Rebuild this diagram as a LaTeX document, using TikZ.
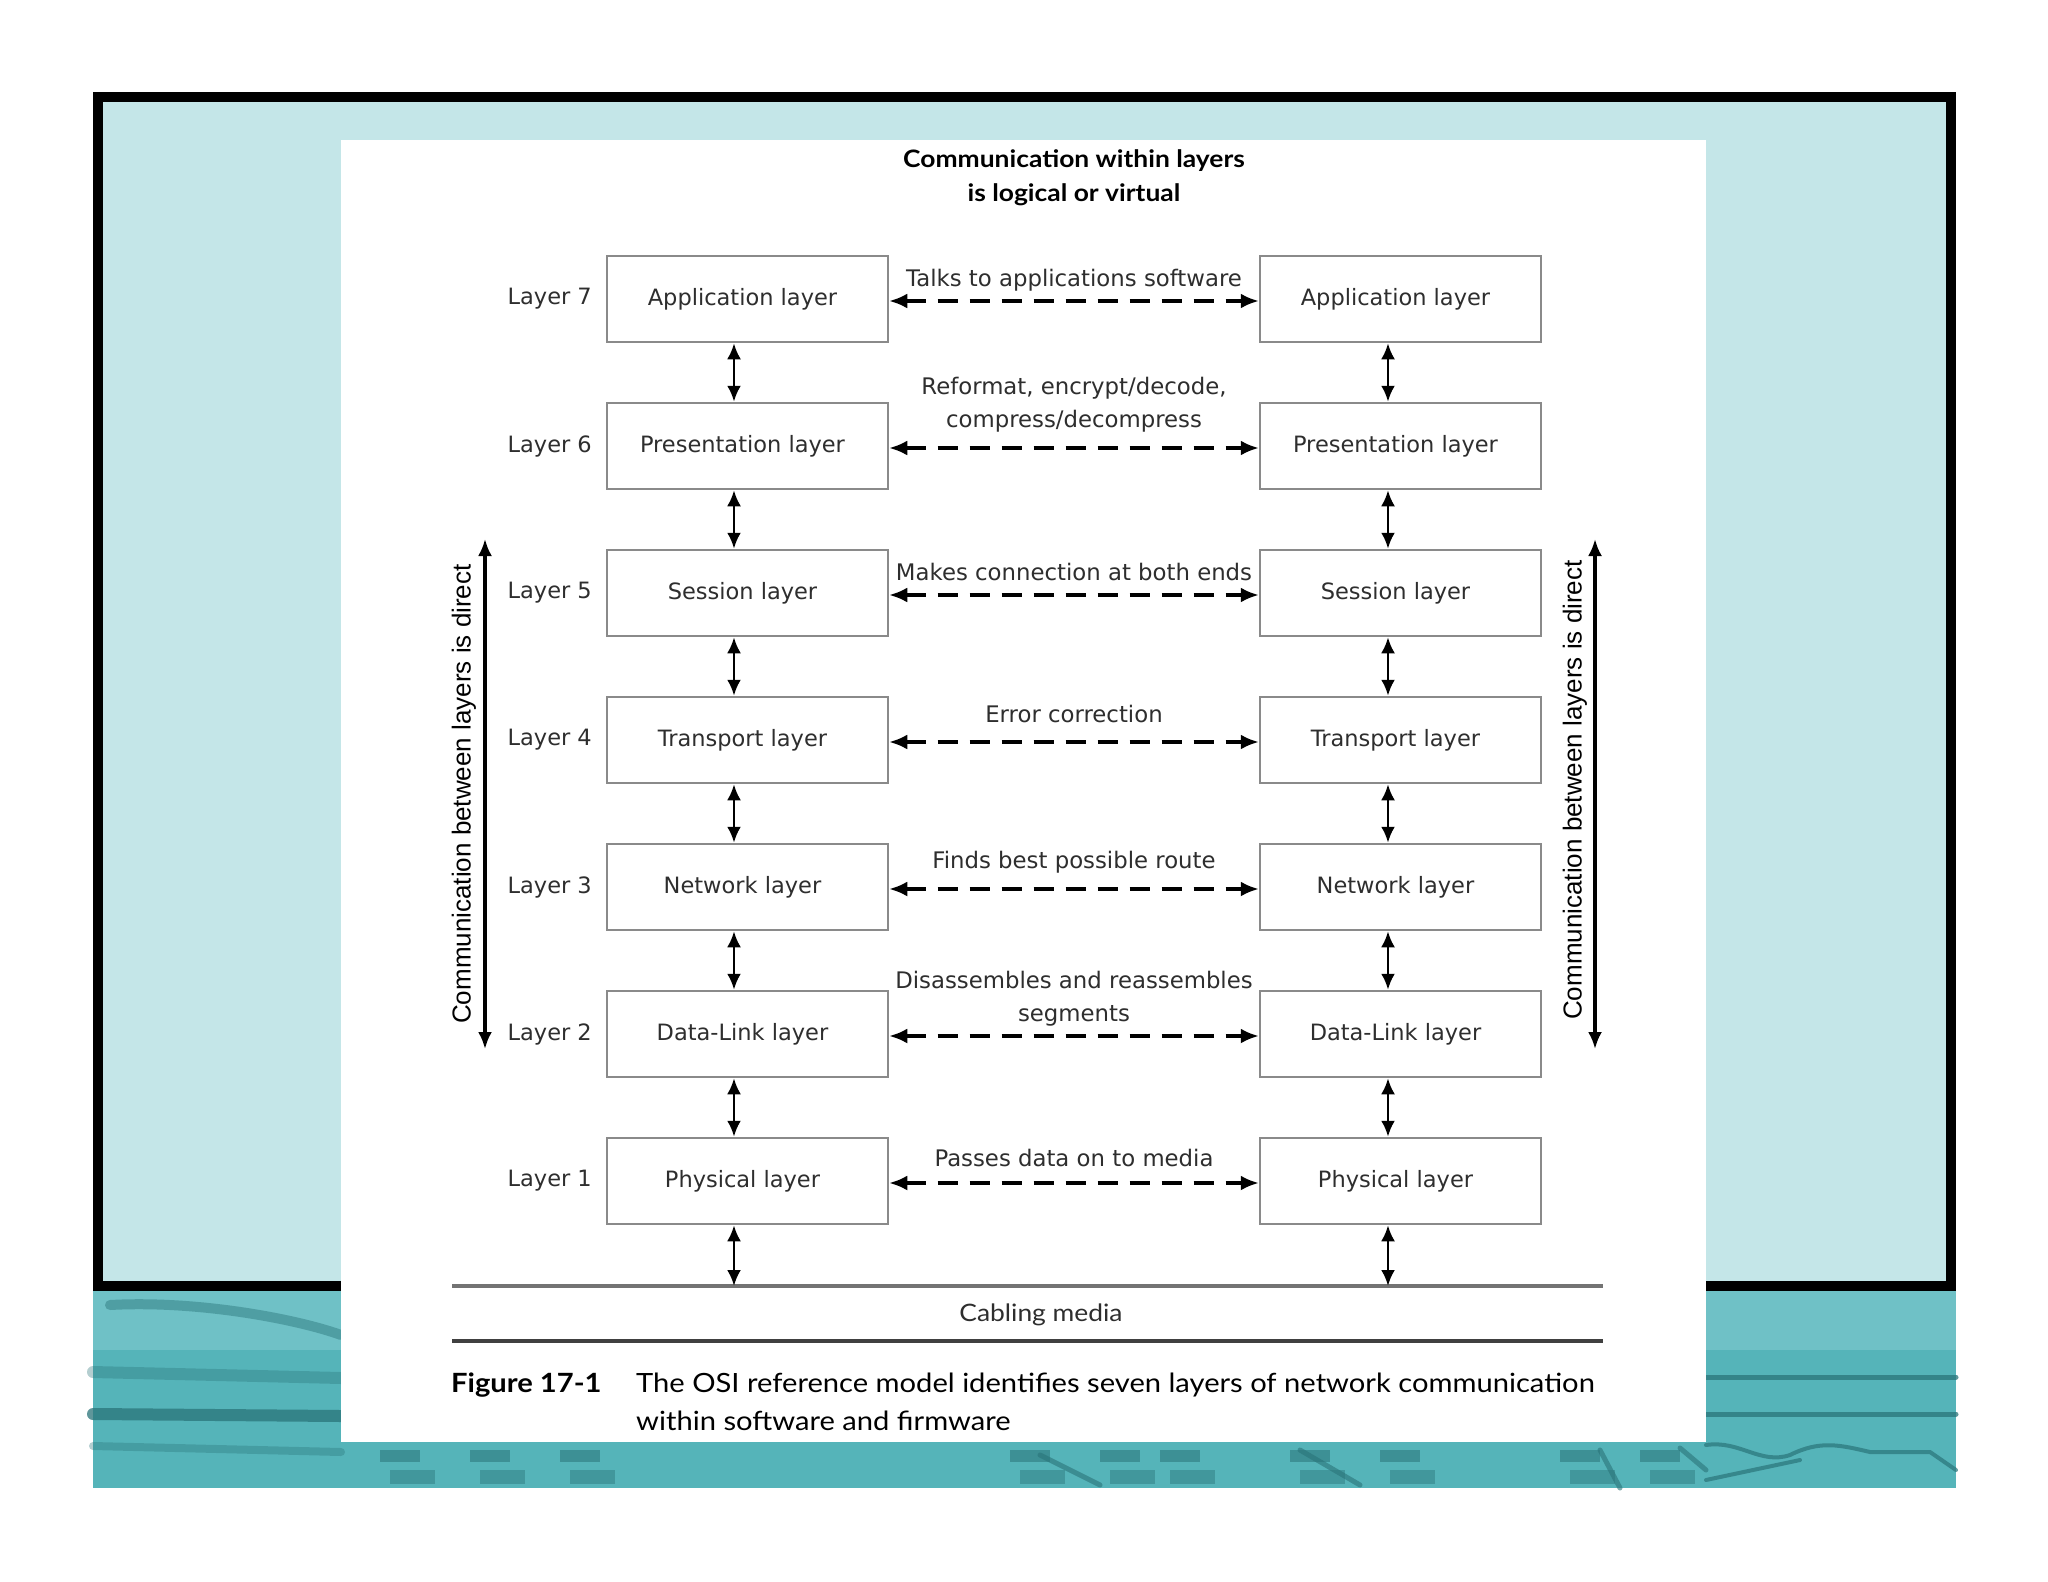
\documentclass[tikz,border=0pt]{standalone}
\usepackage{fontspec}
\setmainfont{DejaVu Sans}
\newfontfamily\capfont[FakeStretch=1.1]{Lato}
\newfontfamily\sidefont{Liberation Sans}
\usetikzlibrary{arrows.meta}
\definecolor{bgcyan}{HTML}{C4E6E8}
\definecolor{bandteal}{HTML}{55B4B9}
\definecolor{banddark}{HTML}{2A7479}
\definecolor{bandlight}{HTML}{8FD3D6}
\definecolor{boxgray}{HTML}{8A8A8A}
\definecolor{txtgray}{HTML}{2E2E2E}
\begin{document}
\begin{tikzpicture}[x=1pt,y=-1pt,
  layerbox/.style={draw=boxgray, line width=2.5pt, fill=white, minimum width=281pt,
    minimum height=86pt, inner sep=0pt, text=txtgray, font=\fontsize{22.5}{26}\selectfont},
  layerlbl/.style={anchor=east, inner sep=0pt, text=txtgray, font=\fontsize{22.5}{26}\selectfont},
  arrlbl/.style={align=center, inner sep=0pt, text=txtgray, font=\fontsize{22.8}{33}\selectfont},
  dasharrow/.style={line width=3.2pt, dash pattern=on 20pt off 12pt,
    {Latex[length=18pt,width=15pt]}-{Latex[length=18pt,width=15pt]}},
  vertarrow/.style={line width=2.8pt, {Latex[length=16pt,width=14pt]}-{Latex[length=16pt,width=14pt]}},
  sidearrow/.style={line width=3.2pt, {Latex[length=17pt,width=14pt]}-{Latex[length=17pt,width=14pt]}},
  sidelbl/.style={rotate=90, inner sep=0pt, text=black, font=\sidefont\fontsize{26}{30}\selectfont},
  cable/.style={line width=4.5pt}
]
\useasboundingbox (0,0) rectangle (2048,1582);
\fill[white] (0,0) rectangle (2048,1582);

% textured teal band
\fill[bandteal] (93,1285) rectangle (1956,1488);
\fill[bandlight, opacity=.45] (93,1290) rectangle (1956,1350);
\begin{scope}[line cap=round]
\draw[banddark, opacity=.45, line width=10pt] (110,1305) .. controls (200,1300) and (300,1320) .. (341,1335);
\draw[banddark, opacity=.35, line width=12pt] (93,1372) -- (341,1378);
\draw[banddark, opacity=.75, line width=12pt] (93,1414) -- (341,1416);
\draw[banddark, opacity=.35, line width=8pt] (93,1446) -- (341,1452);
\draw[banddark, opacity=.75, line width=5pt] (1706,1377) -- (1956,1377);
\draw[banddark, opacity=.75, line width=5pt] (1706,1414) -- (1956,1414);
\draw[banddark, opacity=.7, line width=4pt] (1706,1445) .. controls (1740,1440) and (1760,1465) .. (1790,1455)
   .. controls (1820,1440) and (1840,1445) .. (1870,1452) -- (1930,1452) -- (1956,1470);
\draw[banddark, opacity=.7, line width=4pt] (1706,1480) -- (1800,1460);
% circuit-like marks along the bottom strip
\foreach \xa in {380,470,560,1010,1100,1160,1290,1380,1560,1640}{
  \fill[banddark, opacity=.55] (\xa,1450) rectangle (\xa+40,1462);
  \fill[banddark, opacity=.45] (\xa+10,1470) rectangle (\xa+55,1484);
}
\draw[banddark, opacity=.6, line width=5pt] (1040,1455) -- (1100,1485);
\draw[banddark, opacity=.6, line width=5pt] (1300,1450) -- (1360,1485);
\draw[banddark, opacity=.6, line width=5pt] (1600,1450) -- (1620,1488);
\draw[banddark, opacity=.6, line width=5pt] (1680,1448) -- (1706,1470);
\end{scope}

% black frame and cyan field
\fill[black] (93,92) rectangle (1956,1291);
\fill[bgcyan] (103,102) rectangle (1946,1281);

% white panel
\fill[white] (341,140) rectangle (1706,1442);

% title
\node[align=center, inner sep=0pt, font=\capfont\bfseries\fontsize{24}{34}\selectfont] (title) at (1074,178)
  {Communication within layers\\is logical or virtual};

% layers
\foreach \k/\nm in {7/Application,6/Presentation,5/Session,4/Transport,3/Network,2/Data-Link,1/Physical}{
  \pgfmathsetmacro\yy{299+147*(7-\k)}
  \node[layerbox] (L\k) at (747.5,\yy) {\hspace*{-10pt}\nm{} layer};
  \node[layerbox] (R\k) at (1400.5,\yy) {\hspace*{-10pt}\nm{} layer};
  \node[layerlbl] (N\k) at (592,\yy) {Layer \k};
  \draw[dasharrow] ([yshift=-2pt]L\k.east) -- ([yshift=-2pt]R\k.west);
}

% vertical arrows between layers
\foreach \a/\b in {7/6,6/5,5/4,4/3,3/2,2/1}{
  \draw[vertarrow] ([xshift=-13.5pt]L\a.south) -- ([xshift=-13.5pt]L\b.north);
  \draw[vertarrow] ([xshift=-12.5pt]R\a.south) -- ([xshift=-12.5pt]R\b.north);
}

% arrow labels
\node[arrlbl] (t7) at (1074,280) {Talks to applications software};
\node[arrlbl] (t6) at (1074,405) {Reformat, encrypt/decode,\\compress/decompress};
\node[arrlbl] (t5) at (1074,572) {Makes connection at both ends};
\node[arrlbl] (t4) at (1074,714) {Error correction};
\node[arrlbl] (t3) at (1074,862) {Finds best possible route};
\node[arrlbl] (t2) at (1074,999) {Disassembles and reassembles\\segments};
\node[arrlbl] (t1) at (1074,1158) {Passes data on to media};

% cabling media
\coordinate (cabTL) at (452,1286);
\coordinate (cabTR) at (1603,1286);
\coordinate (cabBL) at (452,1341);
\coordinate (cabBR) at (1603,1341);
\draw[cable, draw=black!55] (cabTL) -- (cabTR);
\draw[cable, draw=black!75] (cabBL) -- (cabBR);
\node[inner sep=0pt, text=txtgray, font=\capfont\fontsize{24}{28}\selectfont] (cab) at (1041,1315) {Cabling media};
\draw[vertarrow] ([xshift=-13.5pt]L1.south) -- ([xshift=-13.5pt]L1.south |- cabTL);
\draw[vertarrow] ([xshift=-12.5pt]R1.south) -- ([xshift=-12.5pt]R1.south |- cabTL);

% side arrows
\coordinate (sl1) at (485,539);
\coordinate (sl2) at (485,1049);
\coordinate (sr1) at (1595,539);
\coordinate (sr2) at (1595,1049);
\draw[sidearrow] (sl1) -- (sl2);
\draw[sidearrow] (sr1) -- (sr2);
\node[sidelbl] (sideL) at (464,794) {Communication between layers is direct};
\node[sidelbl] (sideR) at (1575,790) {Communication between layers is direct};

% caption
\node[anchor=west, inner sep=0pt, font=\capfont\bfseries\fontsize{26.5}{35}\selectfont] (fig) at (451,1385) {Figure 17-1};
\node[anchor=west, inner sep=0pt, font=\capfont\fontsize{26.5}{35}\selectfont] (cap1) at (636,1385)
  {The OSI reference model identifies seven layers of network communication};
\node[anchor=west, inner sep=0pt, font=\capfont\fontsize{26.5}{35}\selectfont] (cap2) at (636,1421)
  {within software and firmware};
\end{tikzpicture}
\end{document}
